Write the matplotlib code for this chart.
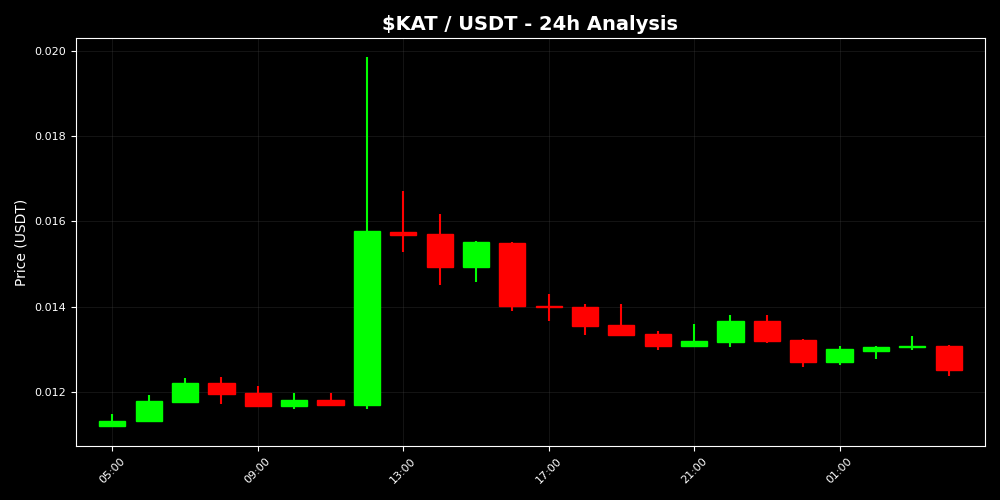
import datetime as dt
import matplotlib
matplotlib.use("Agg")
import matplotlib.pyplot as plt
import matplotlib.dates as mdates

# hourly candles, 05:00 -> 04:00 next day
start = dt.datetime(2024, 1, 1, 5, 0)
times = [start + dt.timedelta(hours=i) for i in range(24)]

opens = [0.011212, 0.011322, 0.011767, 0.012211, 0.011977, 0.011680, 0.011820, 0.011697,
         0.015743, 0.015696, 0.014924, 0.015486, 0.014012, 0.013989, 0.013568, 0.013357,
         0.013084, 0.013177, 0.013661, 0.013217, 0.012709, 0.012967, 0.013053, 0.013084]
closes = [0.011329, 0.011790, 0.012211, 0.011954, 0.011680, 0.011813, 0.011704, 0.015773,
          0.015680, 0.014924, 0.015509, 0.014012, 0.013989, 0.013551, 0.013341, 0.013084,
          0.013194, 0.013661, 0.013194, 0.012709, 0.013006, 0.013053, 0.013077, 0.012515]
highs = [0.011486, 0.011930, 0.012328, 0.012359, 0.012141, 0.011977, 0.011977, 0.019860,
         0.016702, 0.016164, 0.015549, 0.015509, 0.014293, 0.014075, 0.014075, 0.013444,
         0.013591, 0.013802, 0.013802, 0.013257, 0.013093, 0.013093, 0.013310, 0.013100]
lows = [0.011175, 0.011322, 0.011744, 0.011727, 0.011643, 0.011610, 0.011690, 0.011610,
        0.015275, 0.014503, 0.014581, 0.013902, 0.013668, 0.013341, 0.013330, 0.012990,
        0.013060, 0.013060, 0.013154, 0.012592, 0.012639, 0.012780, 0.012990, 0.012375]

UP = "#00ff00"
DOWN = "#ff0000"
BODY_WIDTH = 0.03  # days


def main():
    plt.style.use("dark_background")
    fig, ax = plt.subplots(figsize=(10, 5), dpi=100)
    fig.patch.set_facecolor("black")
    ax.set_facecolor("black")

    x = mdates.date2num(times)
    colors = [UP if c >= o else DOWN for o, c in zip(opens, closes)]

    ax.vlines(x, lows, highs, colors=colors, linewidth=1.5, zorder=2)
    bottoms = [min(o, c) for o, c in zip(opens, closes)]
    heights = [abs(c - o) for o, c in zip(opens, closes)]
    ax.bar(x, heights, bottom=bottoms, width=BODY_WIDTH, color=colors,
           edgecolor=colors, linewidth=1, zorder=3)

    ax.set_xlim(x[0] - 1 / 24, x[-1] + 1 / 24)
    ax.set_xticks(x[::4])
    ax.xaxis.set_major_formatter(mdates.DateFormatter("%H:%M"))
    plt.setp(ax.get_xticklabels(), rotation=45, fontsize=8)
    ax.tick_params(axis="y", labelsize=8)

    ax.grid(True, color="#444444", alpha=0.35, linewidth=0.6)
    for s in ax.spines.values():
        s.set_color("white")

    ax.set_title("\\$KAT / USDT - 24h Analysis", fontsize=14, fontweight="bold", color="white")
    ax.set_ylabel("Price (USDT)", fontsize=10)

    fig.subplots_adjust(left=0.076, right=0.985, top=0.924, bottom=0.108)
    fig.savefig("out.png", dpi=100, facecolor="black")
    plt.close(fig)


if __name__ == "__main__":
    main()
